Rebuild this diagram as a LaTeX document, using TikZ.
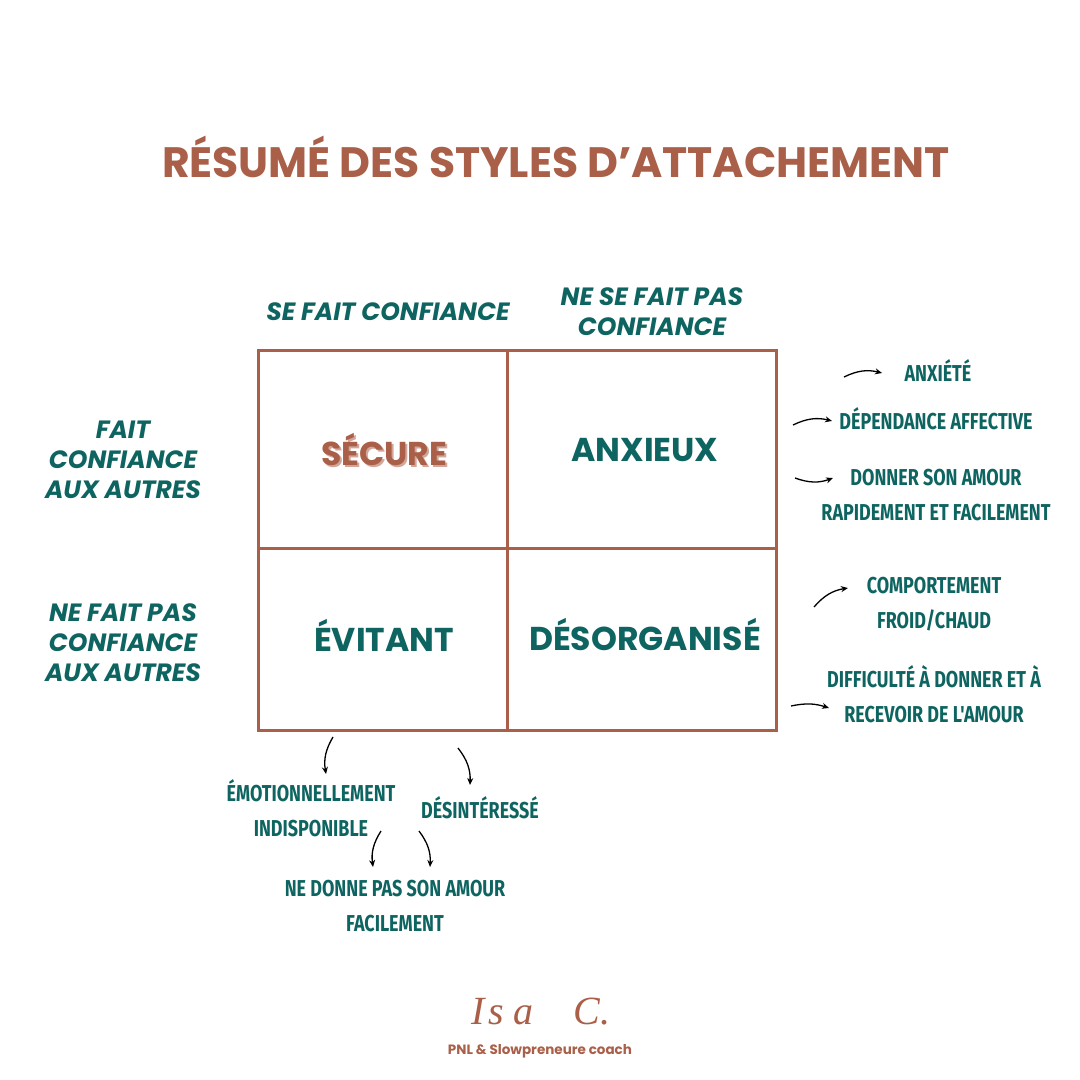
\documentclass[tikz,border=0pt]{standalone}
\usepackage{fontspec}
\setmainfont{Poppins}
\newfontfamily\cond[FakeStretch=0.78]{Fira Sans}
\usetikzlibrary{arrows.meta}
\definecolor{brn}{HTML}{A95F48}
\definecolor{tl}{HTML}{0E6460}
\begin{document}
\begin{tikzpicture}[x=1pt,y=-1pt,
  hd/.style={text=tl,font=\fontsize{25}{30}\selectfont\bfseries\itshape,align=center},
  cell/.style={text=tl,font=\fontsize{33}{36}\selectfont\bfseries},
  lb/.style={text=tl,font=\cond\fontsize{23}{35}\selectfont\bfseries,align=center},
  ar/.style={-{Stealth[length=7pt,width=6pt]},black,line width=1.3pt}]
\useasboundingbox[fill=white] (0,0) rectangle (1080,1080);
\node[text=brn,font=\fontsize{42.5}{48}\selectfont\bfseries] (title) at (556,157) {RÉSUMÉ DES STYLES D’ATTACHEMENT};
\draw[brn,line width=3pt] (258,350) rectangle (776,730) (507,350)--(507,730) (258,548)--(776,548);
\node[hd] (h1) at (388,312) {SE FAIT CONFIANCE};
\node[hd] (h2) at (652,312) {NE SE FAIT PAS\\CONFIANCE};
\node[hd] (r1) at (123,460) {FAIT\\CONFIANCE\\AUX AUTRES};
\node[hd] (r2) at (123,643) {NE FAIT PAS\\CONFIANCE\\AUX AUTRES};
\node[cell,text=brn!55!white] at (386,452) {SÉCURE};
\node[cell,text=brn] (c1) at (384,450) {SÉCURE};
\node[cell] (c2) at (645,450) {ANXIEUX};
\node[cell] (c3) at (384,635) {ÉVITANT};
\node[cell] (c4) at (645,635) {DÉSORGANISÉ};
\node[lb] (a1) at (938,370) {ANXIÉTÉ};
\node[lb] (a2) at (936,419) {DÉPENDANCE AFFECTIVE};
\node[lb] (a3) at (936,495) {DONNER SON AMOUR\\RAPIDEMENT ET FACILEMENT};
\node[lb] (d1) at (934,604) {COMPORTEMENT\\FROID/CHAUD};
\node[lb] (d2) at (934,694) {DIFFICULTÉ À DONNER ET À\\RECEVOIR DE L'AMOUR};
\node[lb] (e1) at (311,808) {ÉMOTIONNELLEMENT\\INDISPONIBLE};
\node[lb] (e2) at (480,808) {DÉSINTÉRESSÉ};
\node[lb] (e3) at (395,906) {NE DONNE PAS SON AMOUR\\FACILEMENT};
\coordinate (p1) at (844,377); \coordinate (q1) at (882,373);
\draw[ar] (p1) to[bend left=20] (q1);
\coordinate (p2) at (793,425); \coordinate (q2) at (832,421);
\draw[ar] (p2) to[bend left=20] (q2);
\coordinate (p3) at (795,478); \coordinate (q3) at (833,478);
\draw[ar] (p3) to[bend right=20] (q3);
\coordinate (p4) at (814,607); \coordinate (q4) at (848,588);
\draw[ar] (p4) to[bend left=20] (q4);
\coordinate (p5) at (791,706); \coordinate (q5) at (829,708);
\draw[ar] (p5) to[bend left=15] (q5);
\coordinate (p6) at (333,737); \coordinate (q6) at (326,774);
\draw[ar] (p6) to[bend right=20] (q6);
\coordinate (p7) at (458,748); \coordinate (q7) at (470,785);
\draw[ar] (p7) to[bend left=20] (q7);
\coordinate (p8) at (381,831); \coordinate (q8) at (373,867);
\draw[ar] (p8) to[bend right=20] (q8);
\coordinate (p9) at (419,831); \coordinate (q9) at (430,867);
\draw[ar] (p9) to[bend left=20] (q9);
\node[text=brn,font=\fontspec{Liberation Serif}\itshape\fontsize{40}{42}\selectfont] (sig) at (541,1012) {I\kern3pt s a\quad C.};
\node[text=brn,font=\fontsize{13.5}{15}\selectfont\bfseries] (sub) at (540,1051) {PNL \& Slowpreneure coach};
\end{tikzpicture}
\end{document}
